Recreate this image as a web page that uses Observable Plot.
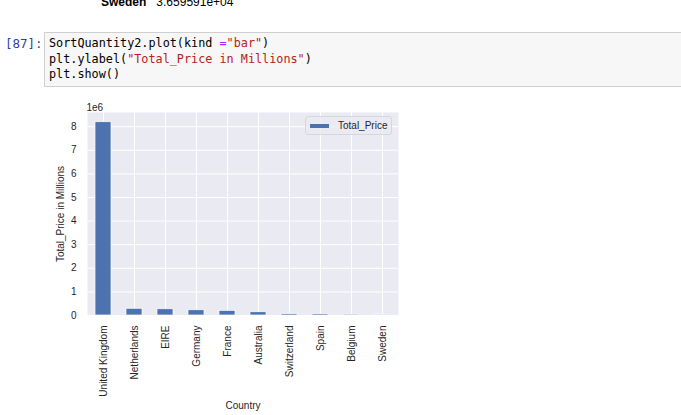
<!DOCTYPE html>
<html>
<head>
<meta charset="utf-8">
<script src="https://cdn.jsdelivr.net/npm/d3@7"></script>
<script src="https://cdn.jsdelivr.net/npm/@observablehq/plot@0.6"></script>
<style>
  html, body { margin: 0; padding: 0; background: #fff; }
  body { width: 681px; height: 415px; position: relative; overflow: hidden; font-family: "Liberation Sans", Arial, sans-serif; }
  .out { position: absolute; left: 101px; top: -5px; font-size: 12px; color: #000; white-space: pre; }
  .out b { font-weight: bold; }
  .prompt { position: absolute; left: 5px; top: 36px; font-family: "DejaVu Sans Mono", monospace; font-size: 12.5px; color: #303f9f; }
  .cell { position: absolute; left: 44px; top: 32px; width: 660px; height: 55px; background: #f7f7f7; border: 1px solid #cfcfcf; box-sizing: border-box; }
  .code { position: absolute; left: 49px; top: 36px; font-family: "DejaVu Sans Mono", monospace; font-size: 11.8px; line-height: 15.5px; color: #000; }
  .code div { height: 15.5px; white-space: pre; }
  .s { color: #ba2121; }
  .o { color: #aa22ff; }
  #chart { position: absolute; left: 40px; top: 95px; }
  .legend { position: absolute; left: 305px; top: 116px; width: 87px; height: 19px; box-sizing: border-box; border: 1px solid #d6d6dc; border-radius: 3px; background: rgba(234,234,242,0.8); font-size: 10px; color: #262626; }
  .legend .patch { position: absolute; left: 4px; top: 7px; width: 19px; height: 3.5px; background: #4c72b0; }
  .legend .lab { position: absolute; left: 32px; top: 3px; }
</style>
</head>
<body>
<div class="out"><b>Sweden</b><span>   3.659591e+04</span></div>
<div class="prompt">[87]:</div>
<div class="cell"></div>
<div class="code"><div><span>SortQuantity2.plot(kind </span><span class="o">=</span><span class="s">"bar"</span><span>)</span></div><div><span>plt.ylabel(</span><span class="s">"Total_Price in Millions"</span><span>)</span></div><div><span>plt.show()</span></div></div>
<div id="chart"></div>
<div class="legend"><div class="patch"></div><div class="lab">Total_Price</div></div>
<script>
const countries = ["United Kingdom","Netherlands","EIRE","Germany","France","Australia","Switzerland","Spain","Belgium","Sweden"];
const totalPrice = [8187806, 284662, 263277, 221698, 197404, 137077, 56385, 54775, 40911, 36596];
const yTicks = [0, 1e6, 2e6, 3e6, 4e6, 5e6, 6e6, 7e6, 8e6];
const yMax = 8.6e6;

const data = countries.map((c, i) => ({Country: c, Total_Price: totalPrice[i]}));

const chart = Plot.plot({
  width: 370,
  height: 320,
  marginLeft: 47,
  marginRight: 12,
  marginTop: 17,
  marginBottom: 100,
  style: {fontFamily: "Liberation Sans, Arial, sans-serif", fontSize: "10px", color: "#262626", background: "transparent"},
  x: {type: "band", domain: countries, paddingInner: 0.5, paddingOuter: 0.25, label: null},
  y: {domain: [0, yMax], label: null},
  marks: [
    Plot.frame({fill: "#eaeaf2", stroke: null}),
    Plot.gridY(yTicks, {stroke: "white", strokeOpacity: 1, strokeWidth: 1}),
    Plot.gridX({stroke: "white", strokeOpacity: 1, strokeWidth: 1}),
    Plot.barY(data, {x: "Country", y: "Total_Price", fill: "#4c72b0", stroke: "white", strokeWidth: 0.7}),
    Plot.axisY(yTicks, {tickSize: 0, tickPadding: 11, tickFormat: d => d / 1e6, label: null, fontSize: 10}),
    Plot.axisX({tickSize: 0, tickPadding: 10, tickRotate: -90, label: null, fontSize: 10}),
    Plot.text(["1e6"], {frameAnchor: "top-left", textAnchor: "start", dx: -1, dy: -9, fontSize: 10}),
    Plot.text(["Country"], {frameAnchor: "bottom", textAnchor: "middle", dy: 93, fontSize: 10}),
    Plot.text(["Total_Price in Millions"], {frameAnchor: "left", textAnchor: "middle", dx: -27, rotate: -90, fontSize: 10})
  ]
});
document.getElementById("chart").appendChild(chart);
</script>
</body>
</html>
